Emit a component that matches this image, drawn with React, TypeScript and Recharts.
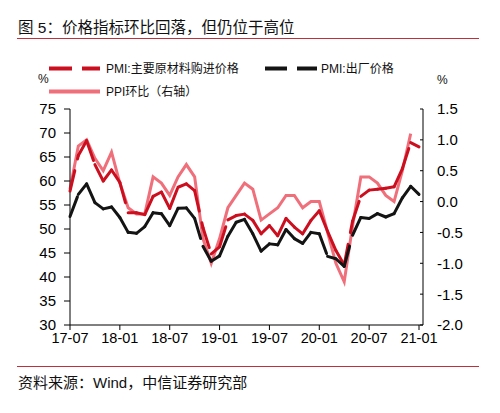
import { LineChart, Line, XAxis, YAxis } from "recharts";

const months = [
  "17-07", "17-08", "17-09", "17-10", "17-11", "17-12",
  "18-01", "18-02", "18-03", "18-04", "18-05", "18-06",
  "18-07", "18-08", "18-09", "18-10", "18-11", "18-12",
  "19-01", "19-02", "19-03", "19-04", "19-05", "19-06",
  "19-07", "19-08", "19-09", "19-10", "19-11", "19-12",
  "20-01", "20-02", "20-03", "20-04", "20-05", "20-06",
  "20-07", "20-08", "20-09", "20-10", "20-11", "20-12",
  "21-01",
];

// PMI:主要原材料购进价格
const pmiInput = [
  57.9, 65.3, 68.4, 63.4, 60.0, 62.3,
  59.7, 53.4, 53.4, 53.0, 56.8, 57.7,
  54.3, 58.7, 59.4, 58.0, 50.3, 44.8,
  46.3, 51.9, 52.8, 53.1, 51.8, 49.0,
  50.7, 48.6, 52.2, 50.4, 49.0, 51.8,
  53.8, 49.5, 45.5, 42.5, 51.6, 56.8,
  58.1, 58.3, 58.5, 58.8, 62.6, 68.0,
  67.1,
];

// PMI:出厂价格
const pmiOutput = [
  52.6, 57.2, 59.4, 55.5, 54.2, 54.6,
  52.4, 49.3, 49.1, 50.5, 53.4, 53.2,
  50.7, 54.3, 54.4, 52.2, 46.4, 43.3,
  44.4, 48.5, 51.4, 52.0, 49.0, 45.4,
  46.9, 46.7, 49.9, 48.0, 47.0, 49.3,
  49.0, 44.3, 43.8, 42.2, 48.7, 52.4,
  52.2, 53.2, 52.5, 53.2, 56.5, 58.9,
  57.2,
];

// PPI环比（右轴）
const ppiMom: (number | null)[] = [
  0.2, 0.9, 1.0, 0.7, 0.5, 0.8,
  0.3, -0.1, -0.2, -0.2, 0.4, 0.3,
  0.1, 0.4, 0.6, 0.4, -0.6, -1.0,
  -0.6, -0.1, 0.1, 0.3, 0.2, -0.3,
  -0.2, -0.1, 0.1, 0.1, -0.1, 0.0,
  0.0, -0.5, -1.0, -1.3, -0.4, 0.4,
  0.4, 0.3, 0.1, 0.0, 0.5, 1.1,
  null,
];

const leftTicks = [30, 35, 40, 45, 50, 55, 60, 65, 70, 75];
const rightTicks = [-2.0, -1.5, -1.0, -0.5, 0.0, 0.5, 1.0, 1.5];

const data = months.map((m, i) => ({
  month: m,
  input: pmiInput[i],
  output: pmiOutput[i],
  ppi: ppiMom[i],
}));

const RED = "#cc0f1f";
const BLACK = "#141414";
const PINK = "#ef6f7b";
const LATIN = "'Liberation Sans', Arial, 'Noto Sans CJK SC', sans-serif";

// excel restarts the dash on every segment, so draw each segment on its own
const segments = (color: string, width: number) => (props: any) => {
  const { index, points } = props;
  const p = points?.[index];
  const q = points?.[index + 1];
  const ok = (v: any) => typeof v === "number" && !isNaN(v);
  if (!p || !q || !ok(p.y) || !ok(q.y)) return <g key={`s-${index}`} />;
  return (
    <line
      key={`s-${index}`}
      x1={p.x}
      y1={p.y}
      x2={q.x}
      y2={q.y}
      stroke={color}
      strokeWidth={width}
      strokeLinecap="round"
      strokeDasharray="21 12"
    />
  );
};

const RightTick = (props: any) => {
  const { x, y, payload } = props;
  return (
    <g>
      <line x1={x - 17} x2={x - 14} y1={y} y2={y} stroke="#000" />
      <text x={x} y={y} dy="0.36em" textAnchor="start" fontSize={15} fill="#000" fontFamily={LATIN}>
        {Number(payload.value).toFixed(1)}
      </text>
    </g>
  );
};

export default function App() {
  return (
    <div style={{ position: "absolute", left: 0, top: 0, width: 500, height: 413, background: "#fff", fontFamily: LATIN }}>
      <div style={{ position: "absolute", left: 18, top: 18, fontSize: 15.5, color: "#111", whiteSpace: "nowrap", lineHeight: "20px" }}>
        图 5：价格指标环比回落，但仍位于高位
      </div>
      <div style={{ position: "absolute", left: 17, top: 38, width: 462, height: 1, background: "#c0303a" }} />

      <svg style={{ position: "absolute", left: 0, top: 0 }} width={500} height={110}>
        <line x1={49} x2={100} y1={68.5} y2={68.5} stroke={RED} strokeWidth={4} strokeDasharray="23 10" />
        <text x={106} y={73} fontSize={12} fill="#111" fontFamily={LATIN}>PMI:主要原材料购进价格</text>
        <line x1={265} x2={317} y1={68.5} y2={68.5} stroke={BLACK} strokeWidth={4} strokeDasharray="22 10" />
        <text x={321} y={73} fontSize={12} fill="#111" fontFamily={LATIN}>PMI:出厂价格</text>
        <line x1={49} x2={100} y1={91.5} y2={91.5} stroke={PINK} strokeWidth={4} />
        <text x={106} y={96} fontSize={12} fill="#111" fontFamily={LATIN}>PPI环比（右轴）</text>
        <text x={38} y={83} fontSize={12} fill="#111" fontFamily={LATIN}>%</text>
        <text x={437} y={84} fontSize={12} fill="#111" fontFamily={LATIN}>%</text>
      </svg>

      <div style={{ position: "absolute", left: 0, top: 0 }}>
        <LineChart width={500} height={413} data={data} margin={{ top: 109, right: 0, bottom: 58, left: 0 }}>
          <XAxis
            dataKey="month"
            interval={5}
            tickSize={5}
            tickMargin={3}
            padding={{ left: 0, right: 4 }}
            axisLine={{ stroke: "#000" }}
            tickLine={{ stroke: "#000" }}
            tick={{ fontSize: 14.5, fill: "#000", fontFamily: LATIN }}
            height={30}
          />
          <YAxis
            yAxisId="left"
            domain={[30, 75]}
            ticks={leftTicks}
            interval={0}
            width={70}
            tickSize={6}
            tickMargin={8}
            axisLine={{ stroke: "#000" }}
            tickLine={{ stroke: "#000" }}
            tick={{ fontSize: 15, fill: "#000", fontFamily: LATIN }}
          />
          <YAxis
            yAxisId="right"
            orientation="right"
            domain={[-2, 1.5]}
            ticks={rightTicks}
            interval={0}
            width={77}
            tickSize={0}
            tickMargin={14}
            tickLine={false}
            axisLine={{ stroke: "#000" }}
            tick={<RightTick />}
          />
          <Line
            yAxisId="left"
            dataKey="input"
            stroke="none"
            dot={segments(RED, 3)}
            activeDot={false}
            isAnimationActive={false}
          />
          <Line
            yAxisId="left"
            dataKey="output"
            stroke="none"
            dot={segments(BLACK, 3)}
            activeDot={false}
            isAnimationActive={false}
          />
          <Line
            yAxisId="right"
            dataKey="ppi"
            stroke={PINK}
            strokeWidth={3}
            dot={false}
            activeDot={false}
            isAnimationActive={false}
          />
        </LineChart>
      </div>

      <div style={{ position: "absolute", left: 17, top: 366, width: 462, height: 1, background: "#c0303a" }} />
      <div style={{ position: "absolute", left: 18, top: 373, fontSize: 15, color: "#111", whiteSpace: "nowrap", lineHeight: "20px" }}>
        资料来源：Wind，中信证券研究部
      </div>
    </div>
  );
}
